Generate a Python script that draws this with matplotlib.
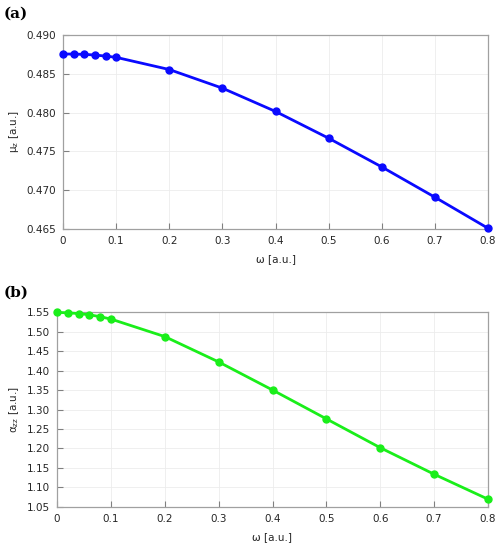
import matplotlib
matplotlib.use("Agg")
import matplotlib.pyplot as plt

# omega values (a.u.)
omega = [0, 0.02, 0.04, 0.06, 0.08, 0.1, 0.2, 0.3, 0.4, 0.5, 0.6, 0.7, 0.8]

# dipole moment mu_z
mu_z = [0.48755, 0.48754, 0.48750, 0.48742, 0.48728, 0.48712,
        0.48555, 0.48315, 0.48015, 0.47670, 0.47300, 0.46910, 0.46510]

# polarizability alpha_zz
alpha_zz = [1.549, 1.548, 1.546, 1.543, 1.538, 1.532,
            1.487, 1.422, 1.350, 1.276, 1.202, 1.134, 1.070]

x_ticks = [0, 0.1, 0.2, 0.3, 0.4, 0.5, 0.6, 0.7, 0.8]


def style_axes(ax):
    for side in ax.spines:
        ax.spines[side].set_color("#a0a0a0")
        ax.spines[side].set_linewidth(0.9)
    ax.tick_params(direction="in", length=4, width=0.8, color="#808080",
                   labelsize=7.5, labelcolor="#262626", pad=5)
    ax.grid(True, color="#ececec", linewidth=0.6)
    ax.set_axisbelow(True)
    ax.set_xlim(0, 0.8)
    ax.set_xticks(x_ticks)
    ax.set_xticklabels(["0"] + ["%.1f" % t for t in x_ticks[1:]])


fig = plt.figure(figsize=(5, 5.5), dpi=100)
plt.rcParams["font.family"] = ["DejaVu Sans"]

ax1 = fig.add_axes([0.126, 0.5836, 0.850, 0.3528])
ax1.plot(omega, mu_z, "-o", color="#0a0aff", linewidth=2, markersize=5, clip_on=False, zorder=3)
style_axes(ax1)
ax1.set_ylim(0.465, 0.490)
ax1.set_yticks([0.465, 0.470, 0.475, 0.480, 0.485, 0.490])
ax1.set_yticklabels(["%.3f" % v for v in ax1.get_yticks()])
ax1.set_xlabel("ω [a.u.]", fontsize=7.5, color="#262626", labelpad=6)
ax1.set_ylabel(r"$\mathregular{\mu_z}$ [a.u.]", fontsize=7.5, color="#262626")

ax2 = fig.add_axes([0.114, 0.0782, 0.862, 0.3545])
ax2.plot(omega, alpha_zz, "-o", color="#1aee1a", linewidth=2, markersize=5, clip_on=False, zorder=3)
style_axes(ax2)
ax2.set_ylim(1.05, 1.55)
ax2.set_yticks([1.05 + 0.05 * i for i in range(11)])
ax2.set_yticklabels(["%.2f" % v for v in ax2.get_yticks()])
ax2.set_xlabel("ω [a.u.]", fontsize=7.5, color="#262626", labelpad=6)
ax2.set_ylabel(r"$\mathregular{\alpha_{zz}}$ [a.u.]", fontsize=7.5, color="#262626")

fig.text(0.008, 0.975, "(a)", fontsize=11, fontweight="bold", family="DejaVu Serif", va="center")
fig.text(0.008, 0.468, "(b)", fontsize=11, fontweight="bold", family="DejaVu Serif", va="center")

fig.savefig("out.png", dpi=100)
